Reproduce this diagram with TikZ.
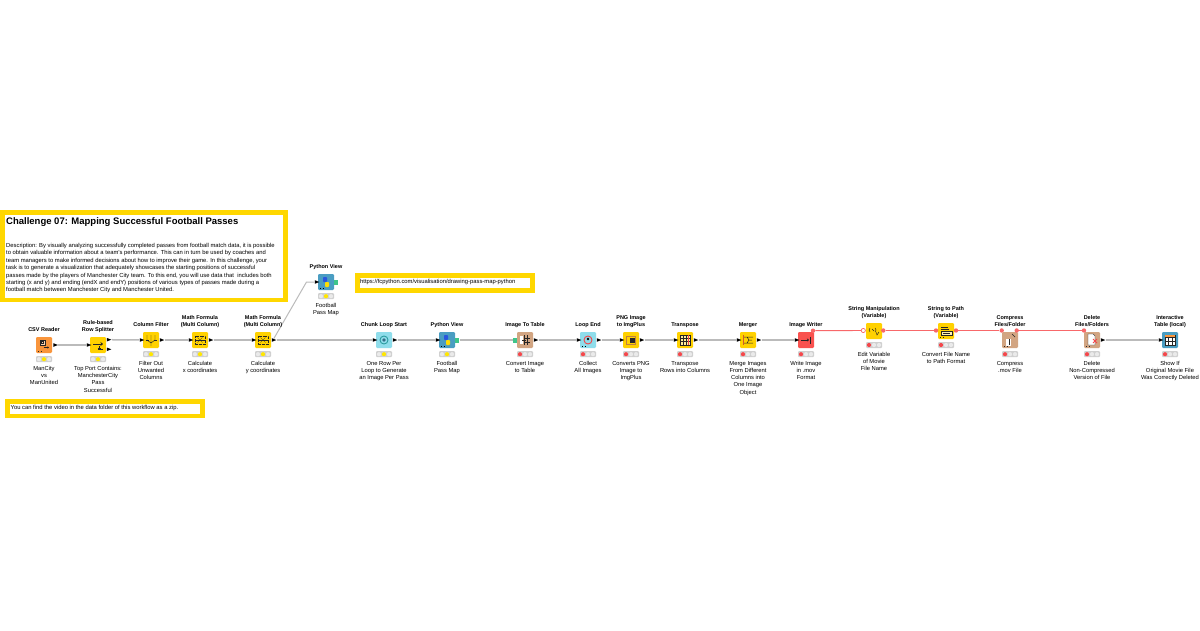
\documentclass[tikz,border=0pt]{standalone}
\usepackage{fontspec}
\setmainfont{Liberation Sans}
\usepackage{xcolor}
\usetikzlibrary{arrows,arrows.meta}
\usetikzlibrary{shapes.geometric}
\definecolor{noteyellow}{HTML}{FFD700}
\definecolor{iconorange}{HTML}{F9953C}
\definecolor{iconyellow}{HTML}{FFD100}
\definecolor{iconblue}{HTML}{4A9DC2}
\definecolor{iconcyan}{HTML}{8FDDEB}
\definecolor{icontan}{HTML}{D2A582}
\definecolor{iconred}{HTML}{F9524F}
\definecolor{lamptray}{HTML}{D0D0D0}
\definecolor{lampoff}{HTML}{EAEAEA}
\definecolor{lamplit}{HTML}{FFE600}
\definecolor{lampred}{HTML}{F4474B}
\definecolor{wiregray}{HTML}{BBBBBB}
\definecolor{wirered}{HTML}{F8686A}
\definecolor{portgreen}{HTML}{3FC58A}
\tikzset{
	tool/.style={rounded corners=1.2pt,minimum size=16pt,inner sep=0pt},
	title/.style={anchor=south,align=center,inner sep=0pt,text depth=1.5pt,font=\fontsize{5.5}{7.3}\selectfont\bfseries},
	caption/.style={anchor=north,align=center,inner sep=0pt,yshift=-.4pt,font=\fontsize{5.8}{7.3}\selectfont},
	notebox/.style={draw=noteyellow,line width=4.6pt,fill=white},
	notetext/.style={anchor=west,align=left,inner sep=0pt,font=\fontsize{5.85}{7.42}\selectfont},
	inport/.style={isosceles triangle,isosceles triangle stretches,fill=black,minimum width=3.6pt,minimum height=4.6pt,inner sep=0pt},
	greenport/.style={fill=portgreen,minimum width=4.6pt,minimum height=5pt,inner sep=0pt},
	redport/.style={circle,fill=wirered,minimum size=4.4pt,inner sep=0pt},
	hollowport/.style={circle,draw=wirered,fill=white,line width=.7pt,minimum size=4.2pt,inner sep=0pt},
	wire/.style={draw=wiregray,line width=1.5pt},
	varwire/.style={draw=wirered,line width=.9pt},
	glyph/.style={line width=.35pt,black!85}
}
\newcommand{\lamps}[4]{
	\fill[lamptray,rounded corners=1pt] (#1-8,#2-3) rectangle (#1+8,#2+3);
	\fill[lampoff] (#1-5,#2) circle (2.1);
	\fill[lampoff] (#1,#2) circle (2.1);
	\fill[lampoff] (#1+5,#2) circle (2.1);
	\fill[#4] (#1+#3,#2) circle (2.1);
}
\begin{document}
\begin{tikzpicture}[x=1pt,y=-1pt]
	\useasboundingbox (0,0) rectangle (1200,630);
	\fill[white] (0,0) rectangle (1200,630);

	\draw[notebox] (2.6,212.4) rectangle (285.4,299.8);
	\draw[notebox] (7.4,401.4) rectangle (202.6,415.8);
	\draw[notebox] (357.2,275.4) rectangle (532.6,290.2);
	\node[notetext,font=\fontsize{9.5}{12}\selectfont\bfseries] (headline) at (6,222.2) {Challenge 07: Mapping Successful Football Passes};
	\node[notetext,anchor=north west] (description) at (6,243) {Description: By visually analyzing successfully completed passes from football match data, it is possible\\to obtain valuable information about a team's performance. This can in turn be used by coaches and\\team managers to make informed decisions about how to improve their game. In this challenge, your\\task is to generate a visualization that adequately showcases the starting positions of successful\\passes made by the players of Manchester City team. To this end, you will use data that\ \ includes both\\starting (x and y) and ending (endX and endY) positions of various types of passes made during a\\football match between Manchester City and Manchester United.};
	\node[notetext] (videonote) at (10.5,407.8) {You can find the video in the data folder of this workflow as a zip.};
	\node[notetext] (linknote) at (360,281.8) {https://fcpython.com/visualisation/drawing-pass-map-python};

	\node[tool,fill=iconorange] (csv) at (44,345) {};
	\node[tool,fill=iconyellow] (splitter) at (98,345) {};
	\node[tool,fill=iconyellow] (filter) at (151,340) {};
	\node[tool,fill=iconyellow] (mathx) at (200,340) {};
	\node[tool,fill=iconyellow] (mathy) at (263,340) {};
	\node[tool,fill=iconblue] (viewtop) at (326,282) {};
	\node[tool,fill=iconcyan] (chunk) at (384,340) {};
	\node[tool,fill=iconblue] (view) at (447,340) {};
	\node[tool,fill=icontan] (totable) at (525,340) {};
	\node[tool,fill=iconcyan] (loopend) at (588,340) {};
	\node[tool,fill=iconyellow] (imgplus) at (631,340) {};
	\node[tool,fill=iconyellow] (transpose) at (685,340) {};
	\node[tool,fill=iconyellow] (merger) at (748,340) {};
	\node[tool,fill=iconred] (writer) at (806,340) {};
	\node[tool,fill=iconyellow] (strman) at (874,331) {};
	\node[tool,fill=iconyellow] (strpath) at (946,331) {};
	\node[tool,fill=icontan] (compress) at (1010,340) {};
	\node[tool,fill=icontan] (delete) at (1092,340) {};
	\node[tool,fill=iconblue] (table) at (1170,340) {};

	\node[inport] (csvout) at (54.6,345) {};
	\node[inport] (splitterin) at (88,345) {};
	\node[inport] (splitterout) at (108,339.7) {};
	\node[inport] (splitterlow) at (108,349.3) {};
	\node[inport] (filterin) at (141,340) {};
	\node[inport] (filterout) at (161,340) {};
	\node[inport] (mathxin) at (190,340) {};
	\node[inport] (mathxout) at (210,340) {};
	\node[inport] (mathyin) at (253,340) {};
	\node[inport] (mathyout) at (273,340) {};
	\node[inport] (viewtopin) at (316,282) {};
	\node[greenport] (viewtopout) at (336,282) {};
	\node[inport] (chunkin) at (374,340) {};
	\node[inport] (chunkout) at (394,340) {};
	\node[inport] (viewin) at (437,340) {};
	\node[greenport] (viewout) at (457,340) {};
	\node[greenport] (totablein) at (515,340) {};
	\node[inport] (totableout) at (535,340) {};
	\node[inport] (loopendin) at (578,340) {};
	\node[inport] (loopendout) at (598,340) {};
	\node[inport] (imgplusin) at (621,340) {};
	\node[inport] (imgplusout) at (641,340) {};
	\node[inport] (transposein) at (675,340) {};
	\node[inport] (transposeout) at (695,340) {};
	\node[inport] (mergerin) at (738,340) {};
	\node[inport] (mergerout) at (758,340) {};
	\node[inport] (writerin) at (796,340) {};
	\node[redport] (writerout) at (813,330.7) {};
	\node[hollowport] (strmanin) at (863.3,330.5) {};
	\node[redport] (strmanout) at (883.3,330.5) {};
	\node[redport] (strpathin) at (936,330.5) {};
	\node[redport] (strpathout) at (956,330.5) {};
	\node[redport] (compressin) at (1001.7,330.5) {};
	\node[redport] (compressout) at (1016.7,330.5) {};
	\node[redport] (deletein) at (1084,330.5) {};
	\node[inport] (deleteout) at (1102,340) {};
	\node[inport] (tablein) at (1160,340) {};
	\coordinate (bend) at (306.5,282);

	\draw[wire] (csvout) -- (splitterin);
	\draw[wire] (splitterout) -- (filterin);
	\draw[wire] (filterout) -- (mathxin);
	\draw[wire] (mathxout) -- (mathyin);
	\draw[wire] (mathyout) -- (chunkin);
	\draw[draw=wiregray,line width=1pt] (mathyout) -- (bend) -- (viewtopin);
	\draw[wire] (chunkout) -- (viewin);
	\draw[wire] (viewout) -- (totablein);
	\draw[wire] (totableout) -- (loopendin);
	\draw[wire] (loopendout) -- (imgplusin);
	\draw[wire] (imgplusout) -- (transposein);
	\draw[wire] (transposeout) -- (mergerin);
	\draw[wire] (mergerout) -- (writerin);
	\draw[varwire] (writerout) -- (strmanin);
	\draw[varwire] (strmanout) -- (strpathin);
	\draw[varwire] (strpathout) -- (compressin);
	\draw[varwire] (compressout) -- (deletein);
	\draw[wire] (deleteout) -- (tablein);

	\lamps{44}{359.2}{0}{lamplit}
	\lamps{98}{359.2}{0}{lamplit}
	\lamps{151}{354.2}{0}{lamplit}
	\lamps{200}{354.2}{0}{lamplit}
	\lamps{263}{354.2}{0}{lamplit}
	\lamps{326}{296.2}{0}{lamplit}
	\lamps{384}{354.2}{0}{lamplit}
	\lamps{447}{354.2}{0}{lamplit}
	\lamps{525}{354.2}{-5}{lampred}
	\lamps{588}{354.2}{-5}{lampred}
	\lamps{631}{354.2}{-5}{lampred}
	\lamps{685}{354.2}{-5}{lampred}
	\lamps{748}{354.2}{-5}{lampred}
	\lamps{806}{354.2}{-5}{lampred}
	\lamps{874}{345}{-5}{lampred}
	\lamps{946}{345}{-5}{lampred}
	\lamps{1010}{354.2}{-5}{lampred}
	\lamps{1092}{354.2}{-5}{lampred}
	\lamps{1170}{354.2}{-5}{lampred}

	\node[title] (csvtitle) at (44,333.5) {CSV Reader};
	\node[title] (splittertitle) at (98,333.5) {Rule-based\\Row Splitter};
	\node[title] (filtertitle) at (151,328.5) {Column Filter};
	\node[title] (mathxtitle) at (200,328.5) {Math Formula\\(Multi Column)};
	\node[title] (mathytitle) at (263,328.5) {Math Formula\\(Multi Column)};
	\node[title] (viewtoptitle) at (326,270.5) {Python View};
	\node[title] (chunktitle) at (384,328.5) {Chunk Loop Start};
	\node[title] (viewtitle) at (447,328.5) {Python View};
	\node[title] (totabletitle) at (525,328.5) {Image To Table};
	\node[title] (loopendtitle) at (588,328.5) {Loop End};
	\node[title] (imgplustitle) at (631,328.5) {PNG Image\\to ImgPlus};
	\node[title] (transposetitle) at (685,328.5) {Transpose};
	\node[title] (mergertitle) at (748,328.5) {Merger};
	\node[title] (writertitle) at (806,328.5) {Image Writer};
	\node[title] (strmantitle) at (874,319.5) {String Manipulation\\(Variable)};
	\node[title] (strpathtitle) at (946,319.5) {String to Path\\(Variable)};
	\node[title] (compresstitle) at (1010,328.5) {Compress\\Files/Folder};
	\node[title] (deletetitle) at (1092,328.5) {Delete\\Files/Folders};
	\node[title] (tabletitle) at (1170,328.5) {Interactive\\Table (local)};

	\node[caption] (csvtext) at (44,365.5) {ManCity\\vs\\ManUnited};
	\node[caption] (splittertext) at (98,365.5) {Top Port Contains:\\ManchesterCity\\Pass\\Successful};
	\node[caption] (filtertext) at (151,360.5) {Filter Out\\Unwanted\\Columns};
	\node[caption] (mathxtext) at (200,360.5) {Calculate\\x coordinates};
	\node[caption] (mathytext) at (263,360.5) {Calculate\\y coordinates};
	\node[caption] (viewtoptext) at (326,302.5) {Football\\Pass Map};
	\node[caption] (chunktext) at (384,360.5) {One Row Per\\Loop to Generate\\an Image Per Pass};
	\node[caption] (viewtext) at (447,360.5) {Football\\Pass Map};
	\node[caption] (totabletext) at (525,360.5) {Convert Image\\to Table};
	\node[caption] (loopendtext) at (588,360.5) {Collect\\All Images};
	\node[caption] (imgplustext) at (631,360.5) {Converts PNG\\Image to\\ImgPlus};
	\node[caption] (transposetext) at (685,360.5) {Transpose\\Rows into Columns};
	\node[caption] (mergertext) at (748,360.5) {Merge Images\\From Different\\Columns into\\One Image\\Object};
	\node[caption] (writertext) at (806,360.5) {Write Image\\in .mov\\Format};
	\node[caption] (strmantext) at (874,351.5) {Edit Variable\\of Movie\\File Name};
	\node[caption] (strpathtext) at (946,351.5) {Convert File Name\\to Path Format};
	\node[caption] (compresstext) at (1010,360.5) {Compress\\.mov File};
	\node[caption] (deletetext) at (1092,360.5) {Delete\\Non-Compressed\\Version of File};
	\node[caption] (tabletext) at (1170,360.5) {Show If\\Original Movie File\\Was Correctly Deleted};

	\begin{scope}[shift={(csv)},glyph]
		\draw[fill=white!60!iconorange] (-4,-5) rectangle (1,0);
		\draw (-2.5,-3.5) rectangle (-.5,-1.5);
		\draw[-{Stealth[length=1.5pt,width=2pt]},line width=.6pt] (-.5,2.5) -- (5,2.5);
		\draw[dotted,line width=.5pt] (-6,6) -- (-2,6);
	\end{scope}
	\begin{scope}[shift={(splitter)},glyph]
		\draw[-{Stealth[length=2.5pt,width=4pt]},line width=1pt] (-5,-1) -- (5,-1);
		\draw (1,1) -- (1,4) -- (5,4);
		\fill (0,5) rectangle (3,3);
	\end{scope}
	\begin{scope}[shift={(filter)},glyph]
		\draw[line width=.45pt] (-4,-5) -- (-4,0) -- (0,3) (0,-5) -- (0,6) (4,-5) -- (4,0) -- (0,3);
		\draw[line width=.45pt] (-5.5,0) -- (-2.5,0) (2.5,0) -- (5.5,0);
	\end{scope}
	\begin{scope}[shift={(mathx)},glyph]
		\draw[densely dotted,line width=.3pt] (-5,-4) rectangle (5,4);
		\draw[line width=.3pt] (-2.5,-2.5) -- (2.5,2.5) (-2.5,2.5) -- (2.5,-2.5);
		\draw[line width=.3pt] (-5,0) -- (5,0);
	\end{scope}
	\begin{scope}[shift={(mathy)},glyph]
		\draw[densely dotted,line width=.3pt] (-5,-4) rectangle (5,4);
		\draw[line width=.3pt] (-2.5,-2.5) -- (2.5,2.5) (-2.5,2.5) -- (2.5,-2.5);
		\draw[line width=.3pt] (-5,0) -- (5,0);
	\end{scope}
	\begin{scope}[shift={(viewtop)}]
		\fill[blue!45!iconblue,rounded corners=.8pt] (-3,-5) rectangle (1,0);
		\fill[yellow!80!orange,rounded corners=.8pt] (-1,0) rectangle (3,5);
		\draw[dotted,line width=.5pt] (-6,6) -- (-2,6);
	\end{scope}
	\begin{scope}[shift={(view)}]
		\fill[blue!45!iconblue,rounded corners=.8pt] (-3,-5) rectangle (1,0);
		\fill[yellow!80!orange,rounded corners=.8pt] (-1,0) rectangle (3,5);
		\draw[dotted,line width=.5pt] (-6,6) -- (-2,6);
	\end{scope}
	\begin{scope}[shift={(chunk)}]
		\draw[teal!70!iconcyan,line width=.9pt] (0,0) circle (4);
		\fill[iconblue!70!black] (0,0) circle (1.8);
	\end{scope}
	\begin{scope}[shift={(totable)},glyph]
		\fill[white] (-5,-4) rectangle (-2,4);
		\draw[line width=.8pt] (-1,-5) -- (-1,5) (2,-5) -- (2,5);
		\draw (-1,-2) -- (5,-2) (-1,2) -- (5,2);
		\draw (-3,0) -- (1,0);
	\end{scope}
	\begin{scope}[shift={(loopend)}]
		\draw[lampred,line width=.9pt] (0,0) circle (4);
		\fill[black] (0,-1) circle (1.3);
		\draw[dotted,line width=.5pt] (-6,6) -- (-1,6);
	\end{scope}
	\begin{scope}[shift={(imgplus)},glyph]
		\draw[brown,line width=.6pt] (-5,-4) rectangle (4,4);
		\fill (-1,-2) rectangle (4,3);
	\end{scope}
	\begin{scope}[shift={(transpose)},glyph]
		\draw[fill=white!60!iconyellow] (-5,-5) rectangle (5,5);
		\draw (-5,-2) -- (5,-2) (-5,1.5) -- (5,1.5) (-2,-5) -- (-2,5) (1.5,-5) -- (1.5,5);
		\fill[lampred] (2.5,-5) rectangle (3.6,5);
	\end{scope}
	\begin{scope}[shift={(merger)},glyph]
		\draw[brown!70!red,line width=.8pt] (-5,-5) -- (-5,5);
		\draw[line width=.5pt] (-4,-3) -- (5,-3) (-4,3) -- (5,3) (-1,-3) -- (1,0) -- (-1,3) (1,0) -- (4,0);
	\end{scope}
	\begin{scope}[shift={(writer)},glyph]
		\draw[-{Stealth[length=2pt,width=3pt]},line width=.6pt] (-5,0) -- (3,0);
		\draw[line width=.7pt] (4,-3.5) -- (4,3.5);
	\end{scope}
	\begin{scope}[shift={(strman)},glyph]
		\draw[line width=.45pt] (-4,-3) -- (-5,-1) -- (-4,1) (1,-3) -- (2,-1) -- (1,1);
		\draw[line width=.45pt] (-2,-2) -- (0,0);
		\draw[line width=.45pt] (2,1) -- (3,4) -- (5,1);
	\end{scope}
	\begin{scope}[shift={(strpath)},glyph]
		\draw (-5,-4) -- (2,-4) (-5,-2) -- (3,-2);
		\draw[fill=white!70!iconyellow] (-5,0) rectangle (6,4);
		\draw (-3,2) -- (4,2);
		\draw[dotted,line width=.5pt] (-6,6) -- (-2,6);
	\end{scope}
	\begin{scope}[shift={(compress)},glyph]
		\fill[white] (-4,-1) rectangle (1,6);
		\draw[line width=.8pt] (-1,-1) -- (-1,5);
		\draw[line width=.7pt] (2,-6) -- (5,-3);
		\draw[dotted,line width=.5pt] (-6,6) -- (-2,6);
	\end{scope}
	\begin{scope}[shift={(delete)},glyph]
		\draw[fill=white] (-4,-6) -- (1,-6) -- (3,-4) -- (3,5) -- (-4,5) -- cycle;
		\draw[lampred,line width=.8pt] (1,-1) -- (5,3) (5,-1) -- (1,3);
		\draw[dotted,line width=.5pt] (-6,6) -- (-2,6);
	\end{scope}
	\begin{scope}[shift={(table)},glyph]
		\draw[fill=white] (-5,-5) rectangle (5,5);
		\fill[iconorange] (-5,-5) rectangle (5,-2.5);
		\draw (-5,-2.5) -- (5,-2.5) (-5,1.2) -- (5,1.2) (-1.7,-2.5) -- (-1.7,5) (1.7,-2.5) -- (1.7,5);
	\end{scope}
\end{tikzpicture}
\end{document}
